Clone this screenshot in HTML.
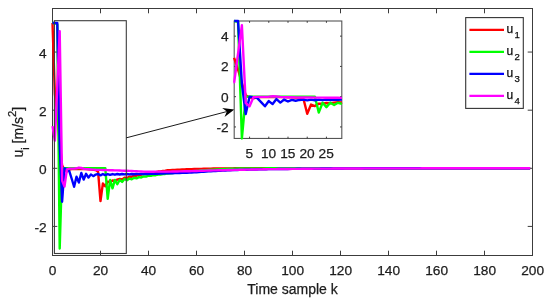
<!DOCTYPE html>
<html lang="en"><head><meta charset="utf-8"><title>Control inputs</title>
<style>html,body{margin:0;padding:0;background:#fff;}svg{display:block;}text{font-family:"Liberation Sans",Arial,Helvetica,sans-serif;fill:#1c1c1c;stroke:#1c1c1c;stroke-width:0.25px;}</style>
</head><body>
<svg width="550" height="300" viewBox="0 0 550 300">
<rect x="0" y="0" width="550" height="300" fill="#ffffff"/>
<defs><clipPath id="cm"><rect x="51.00" y="8.50" width="483.00" height="247.00"/></clipPath>
<clipPath id="ci"><rect x="233.20" y="19.70" width="109.10" height="119.25"/></clipPath></defs>
<g stroke="#3c3c3c" stroke-width="1" fill="none">
<rect x="52.50" y="8.50" width="480.00" height="247.00"/>
<path d="M52.50 255.50v-4.80M52.50 8.50v4.80"/>
<path d="M100.50 255.50v-4.80M100.50 8.50v4.80"/>
<path d="M148.50 255.50v-4.80M148.50 8.50v4.80"/>
<path d="M196.50 255.50v-4.80M196.50 8.50v4.80"/>
<path d="M244.50 255.50v-4.80M244.50 8.50v4.80"/>
<path d="M292.50 255.50v-4.80M292.50 8.50v4.80"/>
<path d="M340.50 255.50v-4.80M340.50 8.50v4.80"/>
<path d="M388.50 255.50v-4.80M388.50 8.50v4.80"/>
<path d="M436.50 255.50v-4.80M436.50 8.50v4.80"/>
<path d="M484.50 255.50v-4.80M484.50 8.50v4.80"/>
<path d="M532.50 255.50v-4.80M532.50 8.50v4.80"/>
<path d="M52.50 226.42h4.80M532.50 226.42h-4.80"/>
<path d="M52.50 168.30h4.80M532.50 168.30h-4.80"/>
<path d="M52.50 110.18h4.80M532.50 110.18h-4.80"/>
<path d="M52.50 52.06h4.80M532.50 52.06h-4.80"/>
</g>
<g clip-path="url(#cm)" fill="none" stroke-width="2.4" stroke-linejoin="round">
<polyline stroke="#ff0000" points="52.50,23.00 54.90,94.20 57.30,115.99 59.70,142.15 62.10,165.39 64.50,169.75 66.90,171.50 69.30,169.46 71.70,169.17 74.10,169.17 76.50,169.17 78.90,169.17 81.30,169.17 83.70,169.17 86.10,169.17 88.50,169.39 90.90,169.61 93.30,169.83 95.70,170.04 98.10,171.79 100.50,201.08 102.90,183.41 105.30,186.32 107.70,181.67 110.10,181.96 112.50,180.51 114.90,180.80 117.30,179.63 119.70,178.91 122.10,179.39 124.50,177.81 126.90,178.06 129.30,176.69 131.70,176.75 134.10,175.68 136.50,175.71 138.90,174.77 141.30,174.69 143.70,173.85 146.10,173.68 148.50,173.02 150.90,172.89 153.30,172.30 155.70,172.11 158.10,171.56 160.50,171.38 162.90,170.93 165.30,170.72 167.70,170.29 170.10,170.25 172.50,170.04 174.90,169.98 177.30,169.79 179.70,169.71 182.10,169.54 184.50,169.45 186.90,169.28 189.30,169.19 191.70,169.09 194.10,169.05 196.50,168.97 198.90,168.92 201.30,168.84 203.70,168.79 206.10,168.71 208.50,168.66 210.90,168.59 213.30,168.57 215.70,168.53 218.10,168.51 220.50,168.47 222.90,168.45 225.30,168.41 227.70,168.39 230.10,168.36 232.50,168.33 234.90,168.30 237.30,168.30 239.70,168.30 242.10,168.30 244.50,168.30 246.90,168.30 249.30,168.30 251.70,168.30 254.10,168.30 256.50,168.30 258.90,168.30 261.30,168.30 263.70,168.30 266.10,168.30 268.50,168.30 270.90,168.30 273.30,168.30 275.70,168.30 278.10,168.30 280.50,168.30 282.90,168.30 285.30,168.30 287.70,168.30 290.10,168.30 292.50,168.30 294.90,168.30 297.30,168.30 299.70,168.30 302.10,168.30 304.50,168.30 306.90,168.30 309.30,168.30 311.70,168.30 314.10,168.30 316.50,168.30 318.90,168.30 321.30,168.30 323.70,168.30 326.10,168.30 328.50,168.30 330.90,168.30 333.30,168.30 335.70,168.30 338.10,168.30 340.50,168.30 342.90,168.30 345.30,168.30 347.70,168.30 350.10,168.30 352.50,168.30 354.90,168.30 357.30,168.30 359.70,168.30 362.10,168.30 364.50,168.30 366.90,168.30 369.30,168.30 371.70,168.30 374.10,168.30 376.50,168.30 378.90,168.30 381.30,168.30 383.70,168.30 386.10,168.30 388.50,168.30 390.90,168.30 393.30,168.30 395.70,168.30 398.10,168.30 400.50,168.30 402.90,168.30 405.30,168.30 407.70,168.30 410.10,168.30 412.50,168.30 414.90,168.30 417.30,168.30 419.70,168.30 422.10,168.30 424.50,168.30 426.90,168.30 429.30,168.30 431.70,168.30 434.10,168.30 436.50,168.30 438.90,168.30 441.30,168.30 443.70,168.30 446.10,168.30 448.50,168.30 450.90,168.30 453.30,168.30 455.70,168.30 458.10,168.30 460.50,168.30 462.90,168.30 465.30,168.30 467.70,168.30 470.10,168.30 472.50,168.30 474.90,168.30 477.30,168.30 479.70,168.30 482.10,168.30 484.50,168.30 486.90,168.30 489.30,168.30 491.70,168.30 494.10,168.30 496.50,168.30 498.90,168.30 501.30,168.30 503.70,168.30 506.10,168.30 508.50,168.30 510.90,168.30 513.30,168.30 515.70,168.30 518.10,168.30 520.50,168.30 522.90,168.30 525.30,168.30 527.70,168.30 530.10,168.30"/>
<polyline stroke="#00ff00" points="52.50,23.00 54.90,23.00 57.30,24.45 59.70,248.51 62.10,168.15 64.50,168.15 66.90,168.15 69.30,168.15 71.70,168.15 74.10,168.15 76.50,168.15 78.90,168.15 81.30,168.15 83.70,168.15 86.10,168.15 88.50,168.15 90.90,168.15 93.30,168.15 95.70,168.15 98.10,168.15 100.50,168.15 102.90,168.15 105.30,168.15 107.70,198.81 110.10,179.92 112.50,188.35 114.90,179.92 117.30,184.28 119.70,179.92 122.10,181.96 124.50,179.05 126.90,180.29 129.30,178.43 131.70,179.30 134.10,177.77 136.50,178.36 138.90,177.08 141.30,177.45 143.70,176.37 146.10,176.57 148.50,175.72 150.90,175.87 153.30,175.14 155.70,175.18 158.10,174.54 160.50,174.54 162.90,173.99 165.30,173.93 167.70,173.44 170.10,173.39 172.50,173.01 174.90,172.92 177.30,172.57 179.70,172.45 182.10,172.13 184.50,171.99 186.90,171.69 189.30,171.53 191.70,171.28 194.10,171.13 196.50,170.89 198.90,170.74 201.30,170.51 203.70,170.35 206.10,170.13 208.50,169.96 210.90,169.74 213.30,169.65 215.70,169.51 218.10,169.41 220.50,169.28 222.90,169.18 225.30,169.05 227.70,168.94 230.10,168.82 232.50,168.71 234.90,168.59 237.30,168.57 239.70,168.55 242.10,168.53 244.50,168.51 246.90,168.49 249.30,168.46 251.70,168.45 254.10,168.42 256.50,168.40 258.90,168.38 261.30,168.36 263.70,168.34 266.10,168.32 268.50,168.30 270.90,168.30 273.30,168.30 275.70,168.30 278.10,168.30 280.50,168.30 282.90,168.30 285.30,168.30 287.70,168.30 290.10,168.30 292.50,168.30 294.90,168.30 297.30,168.30 299.70,168.30 302.10,168.30 304.50,168.30 306.90,168.30 309.30,168.30 311.70,168.30 314.10,168.30 316.50,168.30 318.90,168.30 321.30,168.30 323.70,168.30 326.10,168.30 328.50,168.30 330.90,168.30 333.30,168.30 335.70,168.30 338.10,168.30 340.50,168.30 342.90,168.30 345.30,168.30 347.70,168.30 350.10,168.30 352.50,168.30 354.90,168.30 357.30,168.30 359.70,168.30 362.10,168.30 364.50,168.30 366.90,168.30 369.30,168.30 371.70,168.30 374.10,168.30 376.50,168.30 378.90,168.30 381.30,168.30 383.70,168.30 386.10,168.30 388.50,168.30 390.90,168.30 393.30,168.30 395.70,168.30 398.10,168.30 400.50,168.30 402.90,168.30 405.30,168.30 407.70,168.30 410.10,168.30 412.50,168.30 414.90,168.30 417.30,168.30 419.70,168.30 422.10,168.30 424.50,168.30 426.90,168.30 429.30,168.30 431.70,168.30 434.10,168.30 436.50,168.30 438.90,168.30 441.30,168.30 443.70,168.30 446.10,168.30 448.50,168.30 450.90,168.30 453.30,168.30 455.70,168.30 458.10,168.30 460.50,168.30 462.90,168.30 465.30,168.30 467.70,168.30 470.10,168.30 472.50,168.30 474.90,168.30 477.30,168.30 479.70,168.30 482.10,168.30 484.50,168.30 486.90,168.30 489.30,168.30 491.70,168.30 494.10,168.30 496.50,168.30 498.90,168.30 501.30,168.30 503.70,168.30 506.10,168.30 508.50,168.30 510.90,168.30 513.30,168.30 515.70,168.30 518.10,168.30 520.50,168.30 522.90,168.30 525.30,168.30 527.70,168.30 530.10,168.30"/>
<polyline stroke="#0000ff" points="52.50,23.00 54.90,23.00 57.30,23.00 59.70,144.18 62.10,201.72 64.50,168.30 66.90,169.17 69.30,171.21 71.70,178.76 74.10,186.75 76.50,176.73 78.90,182.54 81.30,172.95 83.70,179.63 86.10,173.82 88.50,177.60 90.90,174.40 93.30,176.15 95.70,174.55 98.10,174.04 100.50,175.34 102.90,174.06 105.30,175.10 107.70,174.06 110.10,174.89 112.50,174.05 114.90,174.70 117.30,174.01 119.70,174.52 122.10,173.99 124.50,174.42 126.90,173.99 129.30,174.32 131.70,173.97 134.10,174.24 136.50,173.95 138.90,174.16 141.30,173.92 143.70,174.08 146.10,173.89 148.50,173.97 150.90,173.77 153.30,173.83 155.70,173.66 158.10,173.69 160.50,173.54 162.90,173.55 165.30,173.42 167.70,173.41 170.10,173.28 172.50,173.25 174.90,173.12 177.30,173.08 179.70,172.97 182.10,172.92 184.50,172.81 186.90,172.75 189.30,172.65 191.70,172.51 194.10,172.33 196.50,172.18 198.90,172.01 201.30,171.86 203.70,171.68 206.10,171.53 208.50,171.36 210.90,171.21 213.30,171.09 215.70,170.98 218.10,170.85 220.50,170.74 222.90,170.62 225.30,170.51 227.70,170.39 230.10,170.28 232.50,170.16 234.90,170.04 237.30,169.98 239.70,169.92 242.10,169.86 244.50,169.80 246.90,169.73 249.30,169.67 251.70,169.61 254.10,169.55 256.50,169.48 258.90,169.42 261.30,169.36 263.70,169.30 266.10,169.23 268.50,169.17 270.90,169.14 273.30,169.11 275.70,169.08 278.10,169.06 280.50,169.03 282.90,169.00 285.30,168.97 287.70,168.94 290.10,168.91 292.50,168.88 294.90,168.85 297.30,168.82 299.70,168.79 302.10,168.77 304.50,168.74 306.90,168.71 309.30,168.68 311.70,168.65 314.10,168.62 316.50,168.59 318.90,168.58 321.30,168.56 323.70,168.55 326.10,168.53 328.50,168.52 330.90,168.50 333.30,168.49 335.70,168.47 338.10,168.46 340.50,168.45 342.90,168.43 345.30,168.42 347.70,168.40 350.10,168.39 352.50,168.37 354.90,168.36 357.30,168.34 359.70,168.33 362.10,168.31 364.50,168.30 366.90,168.30 369.30,168.30 371.70,168.30 374.10,168.30 376.50,168.30 378.90,168.30 381.30,168.30 383.70,168.30 386.10,168.30 388.50,168.30 390.90,168.30 393.30,168.30 395.70,168.30 398.10,168.30 400.50,168.30 402.90,168.30 405.30,168.30 407.70,168.30 410.10,168.30 412.50,168.30 414.90,168.30 417.30,168.30 419.70,168.30 422.10,168.30 424.50,168.30 426.90,168.30 429.30,168.30 431.70,168.30 434.10,168.30 436.50,168.30 438.90,168.30 441.30,168.30 443.70,168.30 446.10,168.30 448.50,168.30 450.90,168.30 453.30,168.30 455.70,168.30 458.10,168.30 460.50,168.30 462.90,168.30 465.30,168.30 467.70,168.30 470.10,168.30 472.50,168.30 474.90,168.30 477.30,168.30 479.70,168.30 482.10,168.30 484.50,168.30 486.90,168.30 489.30,168.30 491.70,168.30 494.10,168.30 496.50,168.30 498.90,168.30 501.30,168.30 503.70,168.30 506.10,168.30 508.50,168.30 510.90,168.30 513.30,168.30 515.70,168.30 518.10,168.30 520.50,168.30 522.90,168.30 525.30,168.30 527.70,168.30 530.10,168.30"/>
<polyline stroke="#ff00ff" points="52.50,126.16 54.90,140.69 57.30,85.48 59.70,31.14 62.10,180.51 64.50,186.61 66.90,169.46 69.30,168.59 71.70,168.59 74.10,168.59 76.50,168.30 78.90,167.57 81.30,168.01 83.70,168.74 86.10,169.17 88.50,169.32 90.90,169.46 93.30,169.61 95.70,169.75 98.10,169.83 100.50,169.90 102.90,169.97 105.30,170.04 107.70,170.12 110.10,170.19 112.50,170.26 114.90,170.33 117.30,170.41 119.70,170.48 122.10,170.59 124.50,170.70 126.90,170.81 129.30,170.92 131.70,171.03 134.10,171.15 136.50,171.26 138.90,171.37 141.30,171.48 143.70,171.59 146.10,171.70 148.50,171.69 150.90,171.69 153.30,171.68 155.70,171.67 158.10,171.67 160.50,171.66 162.90,171.65 165.30,171.65 167.70,171.64 170.10,171.59 172.50,171.55 174.90,171.50 177.30,171.45 179.70,171.40 182.10,171.35 184.50,171.30 186.90,171.25 189.30,171.21 191.70,171.13 194.10,171.04 196.50,170.96 198.90,170.88 201.30,170.80 203.70,170.72 206.10,170.64 208.50,170.56 210.90,170.48 213.30,170.42 215.70,170.36 218.10,170.31 220.50,170.25 222.90,170.19 225.30,170.13 227.70,170.07 230.10,170.01 232.50,169.96 234.90,169.90 237.30,169.85 239.70,169.79 242.10,169.74 244.50,169.69 246.90,169.64 249.30,169.59 251.70,169.54 254.10,169.48 256.50,169.43 258.90,169.38 261.30,169.33 263.70,169.28 266.10,169.22 268.50,169.17 270.90,169.15 273.30,169.12 275.70,169.09 278.10,169.07 280.50,169.04 282.90,169.01 285.30,168.99 287.70,168.96 290.10,168.94 292.50,168.91 294.90,168.88 297.30,168.86 299.70,168.83 302.10,168.81 304.50,168.78 306.90,168.75 309.30,168.73 311.70,168.70 314.10,168.67 316.50,168.65 318.90,168.64 321.30,168.63 323.70,168.61 326.10,168.60 328.50,168.59 330.90,168.58 333.30,168.57 335.70,168.56 338.10,168.54 340.50,168.53 342.90,168.52 345.30,168.51 347.70,168.50 350.10,168.49 352.50,168.47 354.90,168.46 357.30,168.45 359.70,168.44 362.10,168.43 364.50,168.42 366.90,168.41 369.30,168.41 371.70,168.40 374.10,168.40 376.50,168.40 378.90,168.39 381.30,168.39 383.70,168.39 386.10,168.38 388.50,168.38 390.90,168.37 393.30,168.37 395.70,168.37 398.10,168.36 400.50,168.36 402.90,168.35 405.30,168.35 407.70,168.35 410.10,168.34 412.50,168.34 414.90,168.33 417.30,168.33 419.70,168.33 422.10,168.32 424.50,168.32 426.90,168.32 429.30,168.31 431.70,168.31 434.10,168.30 436.50,168.30 438.90,168.30 441.30,168.30 443.70,168.30 446.10,168.30 448.50,168.30 450.90,168.30 453.30,168.30 455.70,168.30 458.10,168.30 460.50,168.30 462.90,168.30 465.30,168.30 467.70,168.30 470.10,168.30 472.50,168.30 474.90,168.30 477.30,168.30 479.70,168.30 482.10,168.30 484.50,168.30 486.90,168.30 489.30,168.30 491.70,168.30 494.10,168.30 496.50,168.30 498.90,168.30 501.30,168.30 503.70,168.30 506.10,168.30 508.50,168.30 510.90,168.30 513.30,168.30 515.70,168.30 518.10,168.30 520.50,168.30 522.90,168.30 525.30,168.30 527.70,168.30 530.10,168.30"/>
</g>
<rect x="54.4" y="20.7" width="71.9" height="232.8" fill="none" stroke="#3c3c3c" stroke-width="1.1"/>
<line x1="126.40" y1="137.80" x2="226.85" y2="111.57" stroke="#000" stroke-width="0.9"/>
<polygon points="234.40,109.60 222.18,107.93 226.85,111.57 224.56,117.03" fill="#000"/>
<rect x="234.20" y="21.00" width="107.60" height="117.45" fill="#fff" stroke="none"/>
<rect x="234.20" y="21.00" width="107.60" height="117.45" fill="none" stroke="#555" stroke-width="1.1"/>
<g stroke="#3c3c3c" stroke-width="1" fill="none">
<path d="M249.57 138.45v-1.80M249.57 21.00v1.80"/>
<path d="M268.79 138.45v-1.80M268.79 21.00v1.80"/>
<path d="M288.00 138.45v-1.80M288.00 21.00v1.80"/>
<path d="M307.22 138.45v-1.80M307.22 21.00v1.80"/>
<path d="M326.43 138.45v-1.80M326.43 21.00v1.80"/>
<path d="M234.20 126.95h1.80M341.80 126.95h-1.80"/>
<path d="M234.20 96.68h1.80M341.80 96.68h-1.80"/>
<path d="M234.20 66.41h1.80M341.80 66.41h-1.80"/>
<path d="M234.20 36.14h1.80M341.80 36.14h-1.80"/>
</g>
<g fill="none" stroke-width="2.4" stroke-linejoin="round" stroke-linecap="butt">
<polyline stroke="#ff0000" points="234.19,57.99 234.20,58.09 238.04,69.44 241.89,83.06 245.73,95.17 249.57,97.44 253.41,98.34 257.26,97.29 261.10,97.13 264.94,97.13 268.79,97.13 272.63,97.13 276.47,97.13 280.32,97.13 284.16,97.13 288.00,97.25 291.84,97.36 295.69,97.47 299.53,97.59 303.37,98.50 307.22,113.75 311.06,104.55 314.90,106.06 318.75,103.64 322.59,103.79 326.43,103.04 330.27,103.19 334.12,102.58 337.96,102.20 341.80,102.46 341.81,102.45"/>
<polyline stroke="#00ff00" points="234.19,21.01 234.20,21.01 238.04,21.76 241.89,138.45 245.73,96.60 249.57,96.60 253.41,96.60 257.26,96.60 261.10,96.60 264.94,96.60 268.79,96.60 272.63,96.60 276.47,96.60 280.32,96.60 284.16,96.60 288.00,96.60 291.84,96.60 295.69,96.60 299.53,96.60 303.37,96.60 307.22,96.60 311.06,96.60 314.90,96.60 318.75,112.57 322.59,102.73 326.43,107.12 330.27,102.73 334.12,105.00 337.96,102.73 341.80,103.79 341.81,103.79"/>
<polyline stroke="#0000ff" points="234.19,21.01 234.20,21.01 238.04,21.01 241.89,84.12 245.73,114.09 249.57,96.68 253.41,97.13 257.26,98.19 261.10,102.13 264.94,106.29 268.79,101.07 272.63,104.10 276.47,99.10 280.32,102.58 284.16,99.56 288.00,101.52 291.84,99.86 295.69,100.77 299.53,99.93 303.37,99.67 307.22,100.35 311.06,99.68 314.90,100.22 318.75,99.68 322.59,100.11 326.43,99.67 330.27,100.01 334.12,99.66 337.96,99.92 341.80,99.64 341.81,99.64"/>
<polyline stroke="#ff00ff" points="234.19,82.28 234.20,82.30 238.04,53.55 241.89,25.24 245.73,103.04 249.57,106.22 253.41,97.29 257.26,96.83 261.10,96.83 264.94,96.83 268.79,96.68 272.63,96.30 276.47,96.53 280.32,96.91 284.16,97.13 288.00,97.21 291.84,97.29 295.69,97.36 299.53,97.44 303.37,97.47 307.22,97.51 311.06,97.55 314.90,97.59 318.75,97.63 322.59,97.66 326.43,97.70 330.27,97.74 334.12,97.78 337.96,97.82 341.80,97.87 341.81,97.87"/>
</g>
<rect x="465.7" y="17.6" width="57.6" height="90.8" fill="#fff" stroke="#333" stroke-width="1.1"/>
<line x1="469.4" y1="29.90" x2="504" y2="29.90" stroke="#ff0000" stroke-width="2.4"/>
<text x="506.6" y="32.60" font-size="12" style="fill:#000">u<tspan dx="1.3" dy="5.7" font-size="9.6">1</tspan></text>
<line x1="469.4" y1="51.90" x2="504" y2="51.90" stroke="#00ff00" stroke-width="2.4"/>
<text x="506.6" y="54.60" font-size="12" style="fill:#000">u<tspan dx="1.3" dy="5.7" font-size="9.6">2</tspan></text>
<line x1="469.4" y1="73.90" x2="504" y2="73.90" stroke="#0000ff" stroke-width="2.4"/>
<text x="506.6" y="76.60" font-size="12" style="fill:#000">u<tspan dx="1.3" dy="5.7" font-size="9.6">3</tspan></text>
<line x1="469.4" y1="95.90" x2="504" y2="95.90" stroke="#ff00ff" stroke-width="2.4"/>
<text x="506.6" y="98.60" font-size="12" style="fill:#000">u<tspan dx="1.3" dy="5.7" font-size="9.6">4</tspan></text>
<g font-size="13.7" text-anchor="middle">
<text x="52.60" y="275.4">0</text>
<text x="100.60" y="275.4">20</text>
<text x="148.60" y="275.4">40</text>
<text x="196.60" y="275.4">60</text>
<text x="244.60" y="275.4">80</text>
<text x="292.60" y="275.4">100</text>
<text x="340.60" y="275.4">120</text>
<text x="388.60" y="275.4">140</text>
<text x="436.60" y="275.4">160</text>
<text x="484.60" y="275.4">180</text>
<text x="532.60" y="275.4">200</text>
</g>
<g font-size="13.7" text-anchor="end">
<text x="46.6" y="231.97">-2</text>
<text x="46.6" y="173.85">0</text>
<text x="46.6" y="115.73">2</text>
<text x="46.6" y="57.61">4</text>
</g>
<g font-size="13.7" text-anchor="middle">
<text x="249.37" y="157.6">5</text>
<text x="268.59" y="157.6">10</text>
<text x="287.80" y="157.6">15</text>
<text x="307.02" y="157.6">20</text>
<text x="326.23" y="157.6">25</text>
</g>
<g font-size="13.7" text-anchor="end">
<text x="228.6" y="131.95">-2</text>
<text x="228.6" y="101.68">0</text>
<text x="228.6" y="71.41">2</text>
<text x="228.6" y="41.14">4</text>
</g>
<text x="292.5" y="294.3" font-size="14" text-anchor="middle">Time sample k</text>
<text transform="translate(22.9,132.2) rotate(-90)" font-size="14" text-anchor="middle">u<tspan dy="5.6" font-size="11.3">i</tspan><tspan dy="-5.6" font-size="14"> [m/s</tspan><tspan dy="-7.2" font-size="11.3">2</tspan><tspan dy="7.2" font-size="14">]</tspan></text>
</svg></body></html>
